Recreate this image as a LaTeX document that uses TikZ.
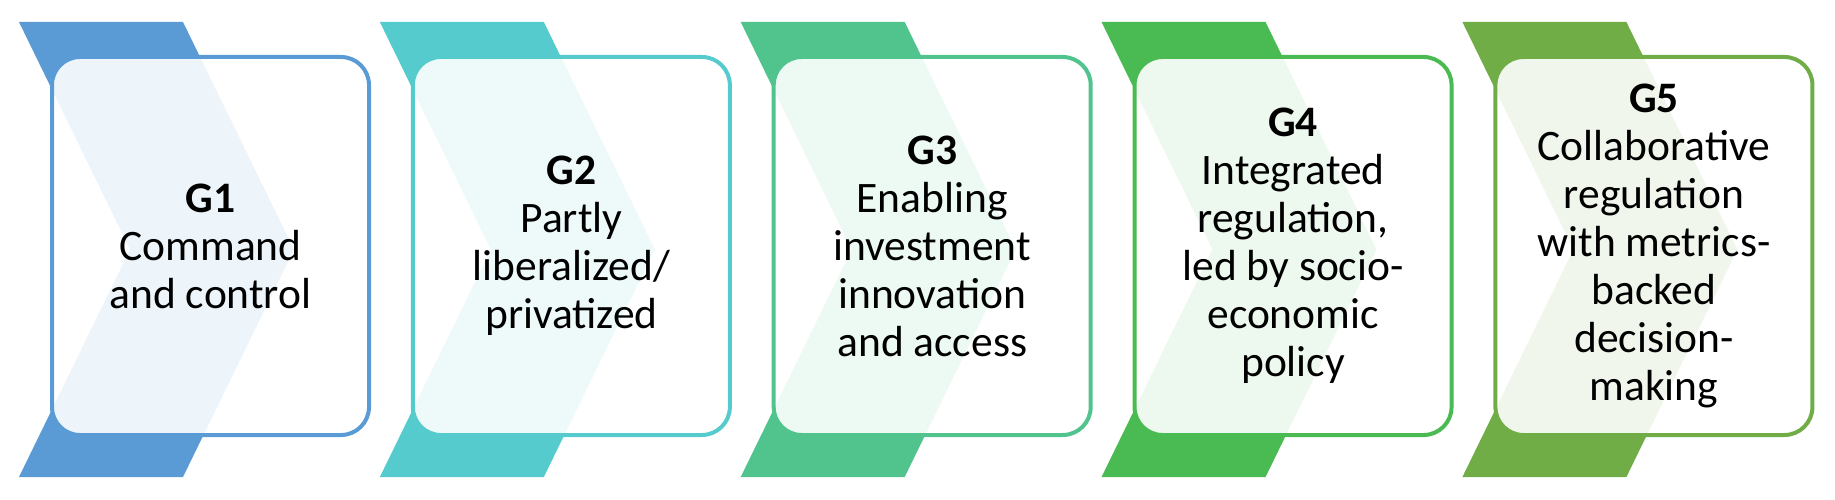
\documentclass[tikz,border=0pt]{standalone}
\usepackage{fontspec}
\setmainfont{Carlito}
\definecolor{cA}{RGB}{91,155,213}
\definecolor{cB}{RGB}{86,203,205}
\definecolor{cC}{RGB}{80,196,140}
\definecolor{cD}{RGB}{74,186,82}
\definecolor{cE}{RGB}{112,173,71}
\tikzset{
  chev/.style={fill=#1, draw=none},
  card/.style={draw=#1, line width=4pt, fill=white, fill opacity=0.9, rounded corners=28pt},
  lbl/.style={align=center, text=black, inner sep=0pt, font=\fontsize{43.5}{48}\selectfont},
}
\begin{document}
\begin{tikzpicture}[x=1pt,y=-1pt]
\useasboundingbox (0,0) rectangle (1835,500);
\foreach \i/\c in {0/cA,1/cB,2/cC,3/cD,4/cE}{
  \pgfmathsetmacro{\dx}{360.85*\i}
  \begin{scope}[xshift=\dx pt]
    \fill[chev=\c] (19,22) -- (183,22) -- (294,249.5) -- (183,477) -- (19,477) -- (130,249.5) -- cycle;
    \draw[card=\c] (52,57) rectangle (369,435);
  \end{scope}
}
\node[lbl] (g1) at (210.5,246) {\textbf{G1}\\Command\\and control};
\node[lbl] (g2) at (571.4,246) {\textbf{G2}\\Partly\\liberalized/\\privatized};
\node[lbl] (g3) at (932.2,246) {\textbf{G3}\\Enabling\\investment\\innovation\\and access};
\node[lbl] (g4) at (1293.1,246) {\textbf{G4}\\Integrated\\regulation,\\led by socio-\\economic\\policy};
\node[lbl] (g5) at (1653.9,246) {\textbf{G5}\\Collaborative\\regulation\\with metrics-\\backed\\decision-\\making};
\end{tikzpicture}
\end{document}
